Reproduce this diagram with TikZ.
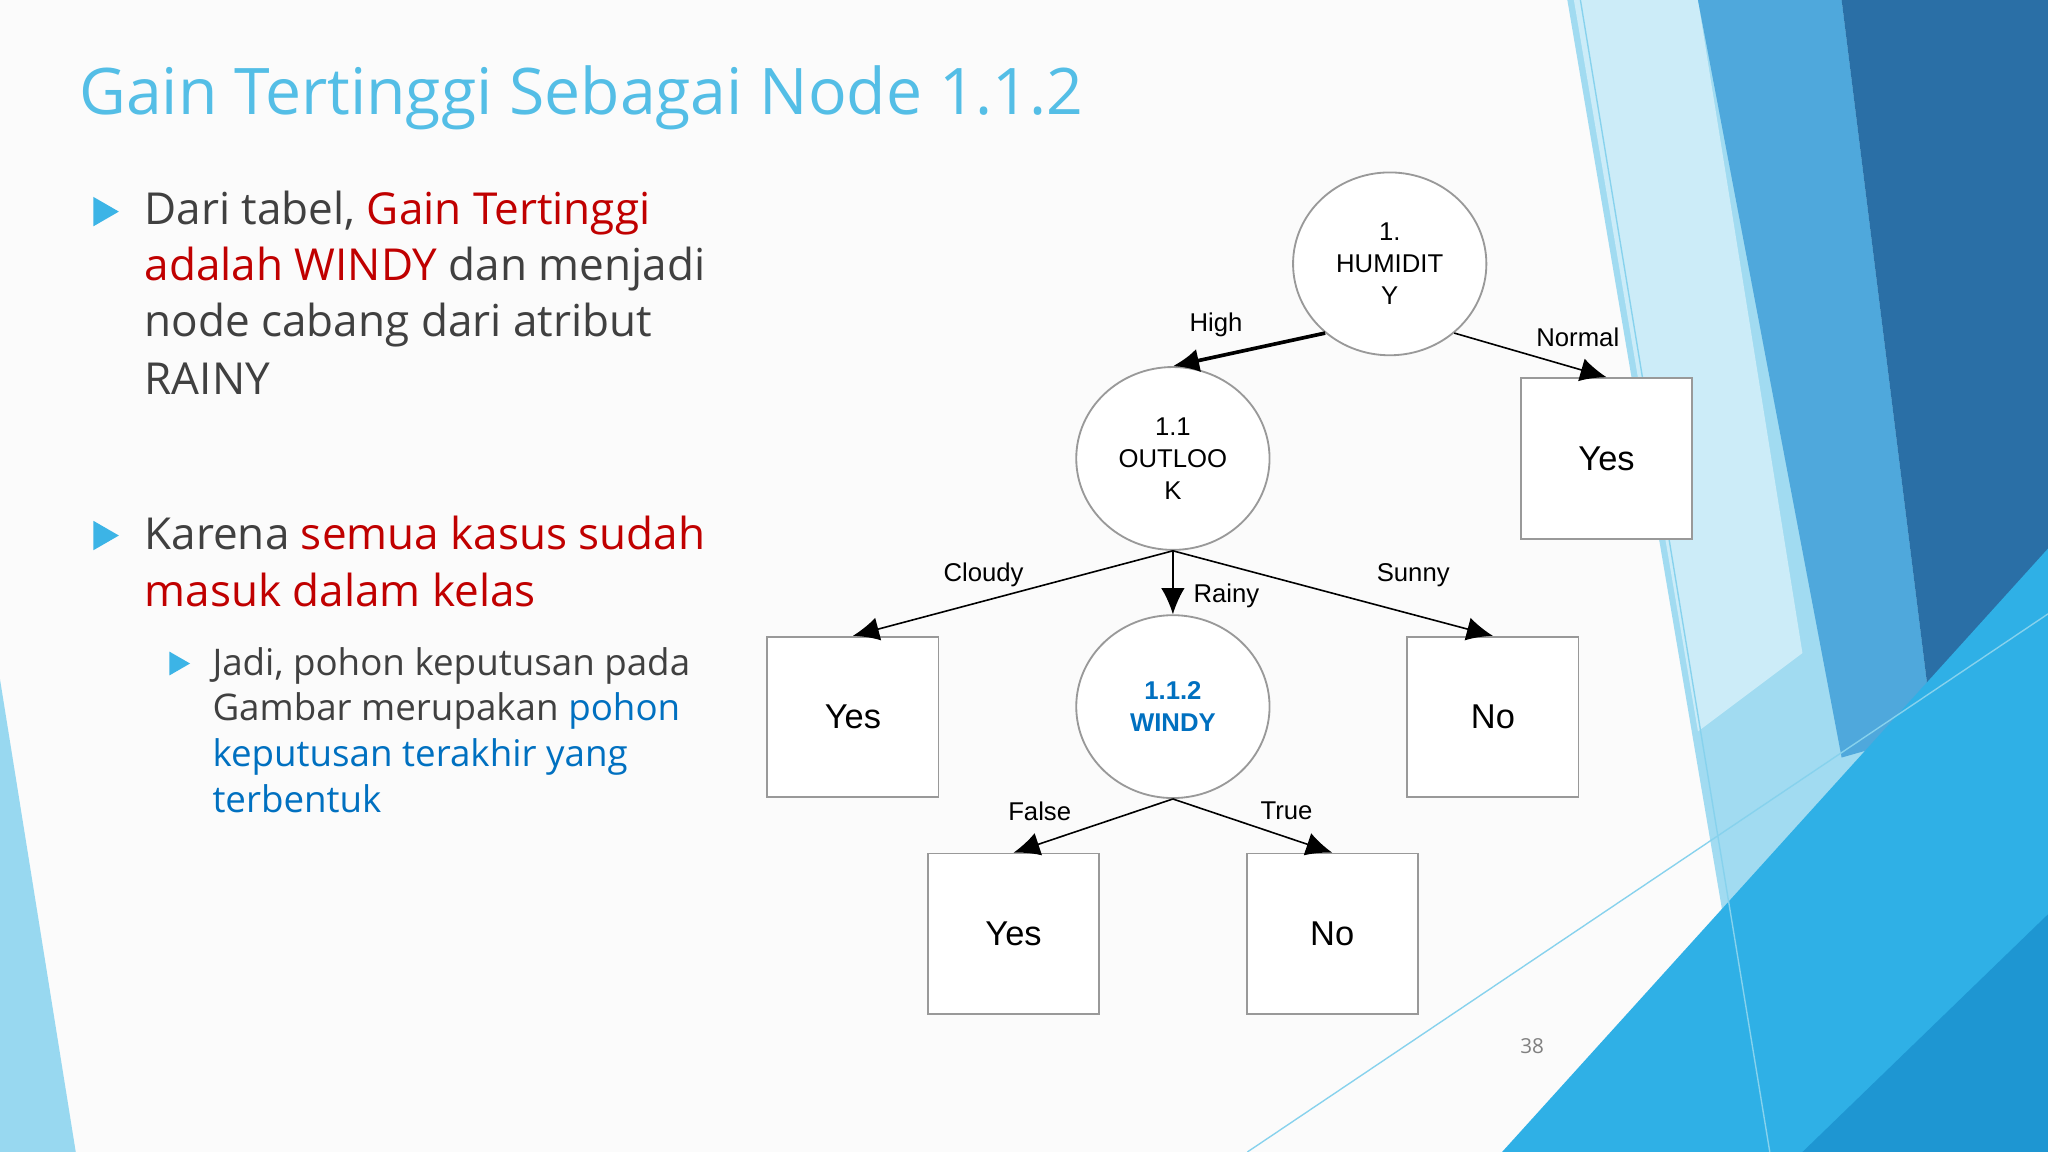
\documentclass[tikz,border=0pt]{standalone}
\usepackage{fontspec}
\setmainfont{Open Sans}
\newfontfamily\arialf{Liberation Sans}
\usetikzlibrary{arrows.meta,shapes.geometric}
\definecolor{ttl}{RGB}{84,190,230}
\definecolor{red1}{RGB}{192,0,0}
\definecolor{blu1}{RGB}{0,112,192}
\definecolor{txt}{RGB}{64,64,64}
\definecolor{bul}{RGB}{60,180,230}
\definecolor{dmid}{RGB}{79,168,220}
\definecolor{ddark}{RGB}{42,111,166}
\definecolor{dbot}{RGB}{47,176,230}
\definecolor{dbot2}{RGB}{30,150,210}
\begin{document}
\begin{tikzpicture}[x=0.1mm,y=-0.1mm,
  circ/.style={draw=gray!80,ellipse,minimum width=14.8mm,minimum height=14mm,inner sep=0pt,align=center,font=\arialf\fontsize{5.6}{7}\selectfont},
  leaf/.style={draw=gray!80,minimum width=13.1mm,minimum height=12.3mm,inner sep=0pt,font=\arialf\fontsize{7.5}{9}\selectfont},
  edge/.style={-{Latex[length=2mm,width=1.8mm]},line width=0.35pt},
  lab/.style={font=\arialf\fontsize{5.6}{7}\selectfont},
  body/.style={anchor=base west,font=\fontsize{9.6}{12}\selectfont,text=txt,inner sep=0},
  sub/.style={anchor=base west,font=\fontsize{8}{10}\selectfont,text=txt,inner sep=0},
  tri/.style={bul,fill,regular polygon,regular polygon sides=3,shape border rotate=-90,inner sep=0}]
\useasboundingbox (0,0) rectangle (1568,882);
\fill[white!97!gray] (0,0) rectangle (1568,882);
% decorations
\fill[ttl!60] (0,520) -- (58,882) -- (0,882) -- cycle;
\fill[ttl!55] (1200,0) -- (1568,0) -- (1568,882) -- (1350,882) -- cycle;
\fill[white!70!ttl] (1205,0) -- (1300,0) -- (1380,500) -- (1300,560) -- cycle;
\fill[dmid] (1300,0) -- (1410,0) -- (1480,560) -- (1410,580) -- cycle;
\fill[ddark] (1410,0) -- (1568,0) -- (1568,640) -- (1480,560) -- cycle;
\fill[dbot] (1150,882) -- (1568,420) -- (1568,882) -- cycle;
\fill[dbot2] (1380,882) -- (1568,700) -- (1568,882) -- cycle;
\draw[ttl!70,line width=0.3pt] (1210,0) -- (1355,882);
\draw[ttl!70,line width=0.3pt] (955,882) -- (1568,470);
% title
\node[anchor=base west,inner sep=0,text=ttl,font=\fontsize{14}{17}\selectfont] (title) at (60,88) {Gain Tertinggi Sebagai Node 1.1.2};
% bullets
\node[tri,minimum size=2.6mm] (b1) at (78,162) {};
\node[body] (t1) at (110,172) {Dari tabel, \textcolor{red1}{Gain Tertinggi}};
\node[body] (t2) at (110,215) {\textcolor{red1}{adalah WINDY} dan menjadi};
\node[body] (t3) at (110,258) {node cabang dari atribut};
\node[body] (t4) at (110,302) {RAINY};
\node[tri,minimum size=2.6mm] (b2) at (78,410) {};
\node[body] (t5) at (110,421) {Karena \textcolor{red1}{semua kasus sudah}};
\node[body] (t6) at (110,464) {\textcolor{red1}{masuk dalam kelas}};
\node[tri,minimum size=2.1mm] (b3) at (135,508) {};
\node[sub] (s1) at (162,517) {Jadi, pohon keputusan pada};
\node[sub] (s2) at (162,552) {Gambar merupakan \textcolor{blu1}{pohon}};
\node[sub] (s3) at (162,587) {\textcolor{blu1}{keputusan terakhir yang}};
\node[sub] (s4) at (162,622) {\textcolor{blu1}{terbentuk}};
% tree
\node[circ,fill=white] (hum) at (1064,202) {1.\\HUMIDIT\\Y};
\node[circ,fill=white] (out) at (898,351) {1.1\\OUTLOO\\K};
\node[circ,fill=white,text=blu1,font=\arialf\bfseries\fontsize{5.6}{7}\selectfont] (win) at (898,541) {1.1.2\\WINDY};
\node[leaf,fill=white] (y1) at (1230,351) {Yes};
\node[leaf,fill=white] (y2) at (653,549) {Yes};
\node[leaf,fill=white] (n1) at (1143,549) {No};
\node[leaf,fill=white] (y3) at (776,715) {Yes};
\node[leaf,fill=white] (n2) at (1020,715) {No};
\draw[edge,line width=0.8pt] (hum.-133) -- (out.north);
\draw[edge] (hum.-47) -- (y1.north);
\draw[edge] (out.south) -- (y2.north);
\draw[edge] (out.south) -- (win.north);
\draw[edge] (out.south) -- (n1.north);
\draw[edge] (win.south) -- (y3.north);
\draw[edge] (win.south) -- (n2.north);
\node[lab] (l1) at (931,249) {High};
\node[lab] (l2) at (1208,258) {Normal};
\node[lab] (l3) at (753,440) {Cloudy};
\node[lab] (l4) at (939,456) {Rainy};
\node[lab] (l5) at (1082,440) {Sunny};
\node[lab] (l6) at (796,621) {False};
\node[lab] (l7) at (985,621) {True};
\node[text=gray,font=\fontsize{4.5}{5}\selectfont] (pg) at (1173,801) {38};
\end{tikzpicture}
\end{document}
